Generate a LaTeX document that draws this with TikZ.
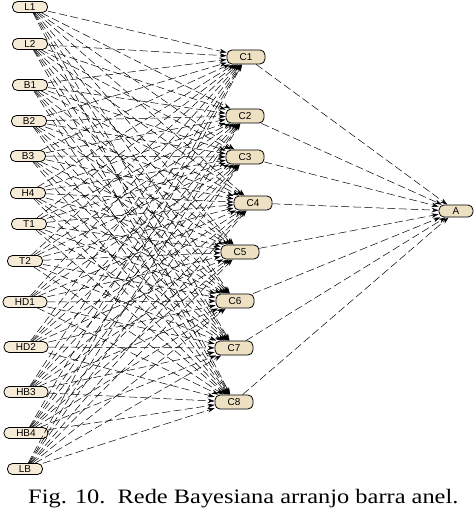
\documentclass[tikz,border=0pt]{standalone}
\usepackage{fontspec}
\setmainfont{Liberation Serif}
\newfontfamily\nodefont{Liberation Sans}
\usetikzlibrary{arrows.meta}
\definecolor{leftfill}{HTML}{F5EBD7}
\definecolor{midfill}{HTML}{EEE1C3}
\begin{document}
\begin{tikzpicture}[x=1pt,y=-1pt,
  basenode/.style={draw=black,line width=0.8pt,rounded corners=5pt,inner sep=1pt,
    font=\nodefont\fontsize{10}{10}\selectfont},
  leftnode/.style={basenode,fill=leftfill,minimum width=35pt,minimum height=11pt},
  midnode/.style={basenode,fill=midfill,minimum width=38pt,minimum height=14pt},
  outnode/.style={basenode,fill=midfill,minimum width=34pt,minimum height=12pt},
  link/.style={line width=0.5pt,dash pattern=on 8pt off 3.5pt,
    -{Stealth[length=7pt,width=4.5pt]}}]
\useasboundingbox (0,0) rectangle (474,513);
% left nodes
\node[leftnode] (L1) at (30,7) {L1};
\node[leftnode] (L2) at (30,44) {L2};
\node[leftnode] (B1) at (30,85) {B1};
\node[leftnode] (B2) at (29,121) {B2};
\node[leftnode] (B3) at (28,156) {B3};
\node[leftnode] (H4) at (28,193) {H4};
\node[leftnode] (T1) at (29,224) {T1};
\node[leftnode] (T2) at (25,261) {T2};
\node[leftnode,minimum width=44pt] (HD1) at (25,302) {HD1};
\node[leftnode,minimum width=44pt] (HD2) at (26,347) {HD2};
\node[leftnode,minimum width=44pt] (HB3) at (26,392) {HB3};
\node[leftnode,minimum width=44pt] (HB4) at (26,433) {HB4};
\node[leftnode] (LB) at (25,469) {LB};
% middle nodes
\node[midnode] (C1) at (246,57) {C1};
\node[midnode] (C2) at (245,116) {C2};
\node[midnode] (C3) at (245,157) {C3};
\node[midnode] (C4) at (253,203) {C4};
\node[midnode] (C5) at (240,252) {C5};
\node[midnode] (C6) at (235,301) {C6};
\node[midnode] (C7) at (234,348) {C7};
\node[midnode] (C8) at (234,402) {C8};
% output
\node[outnode] (A) at (456,211) {A};
% links
\foreach \s in {L1,L2,B1,B2,B3,H4,T1,T2,HD1,HD2,HB3,HB4,LB}{
  \foreach \t in {C1,C2,C3,C4,C5,C6,C7,C8}{
    \draw[link] (\s) -- (\t);
  }
}
\foreach \t in {C1,C2,C3,C4,C5,C6,C7,C8}{
  \draw[link] (\t) -- (A);
}
% caption
\node[anchor=base west,inner sep=0pt,xscale=1.19,font=\fontsize{20.5}{22}\selectfont] (cap) at (28,503)
  {Fig. 10.\ \ Rede Bayesiana arranjo barra anel.};
\end{tikzpicture}
\end{document}
